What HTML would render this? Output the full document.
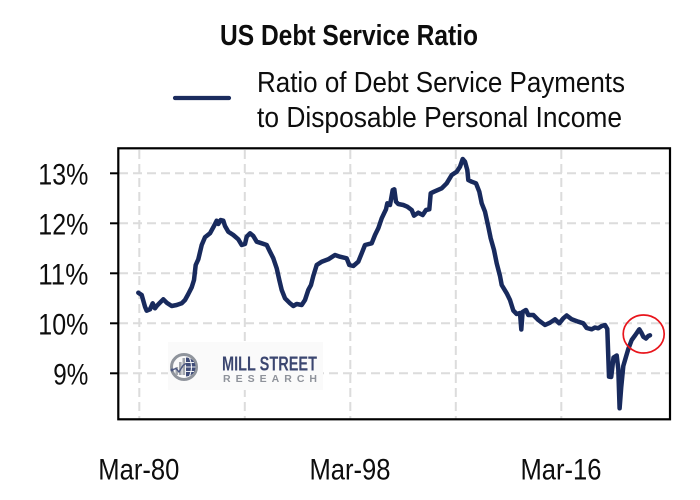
<!DOCTYPE html>
<html>
<head>
<meta charset="utf-8">
<style>
  html,body{margin:0;padding:0;background:#ffffff;}
  body{width:700px;height:500px;overflow:hidden;}
  svg{display:block;}
  .t{font-family:"Liberation Sans Narrow","Liberation Sans",sans-serif;fill:#0d0d0d;}
</style>
</head>
<body>
<svg width="700" height="500" viewBox="0 0 700 500" xmlns="http://www.w3.org/2000/svg">
  <rect x="0" y="0" width="700" height="500" fill="#ffffff"/>

  <!-- Title -->
  <text class="t" x="220" y="45" font-size="29" font-weight="bold" textLength="258" lengthAdjust="spacingAndGlyphs">US Debt Service Ratio</text>

  <!-- Legend -->
  <line x1="175" y1="98" x2="229" y2="98" stroke="#1b2c5e" stroke-width="4.2" stroke-linecap="round"/>
  <text class="t" x="257" y="92" font-size="29" textLength="368" lengthAdjust="spacingAndGlyphs">Ratio of Debt Service Payments</text>
  <text class="t" x="257" y="127" font-size="29" textLength="365" lengthAdjust="spacingAndGlyphs">to Disposable Personal Income</text>

  <!-- Grid -->
  <g stroke="#dcdcdc" stroke-width="2" stroke-dasharray="9,5" fill="none">
    <line x1="119" y1="173.3" x2="669" y2="173.3"/>
    <line x1="119" y1="223.3" x2="669" y2="223.3"/>
    <line x1="119" y1="273.3" x2="669" y2="273.3"/>
    <line x1="119" y1="323.3" x2="669" y2="323.3"/>
    <line x1="119" y1="373.3" x2="669" y2="373.3"/>
    <line x1="139.3" y1="150" x2="139.3" y2="419"/>
    <line x1="244.8" y1="150" x2="244.8" y2="419"/>
    <line x1="350.3" y1="150" x2="350.3" y2="419"/>
    <line x1="455.8" y1="150" x2="455.8" y2="419"/>
    <line x1="561.3" y1="150" x2="561.3" y2="419"/>
  </g>

  <!-- Logo -->
  <rect x="168" y="342" width="155" height="48" fill="#fafafa"/>
  <g>
    <circle cx="184" cy="367" r="12.5" fill="none" stroke="#8f949c" stroke-width="3"/>
    <rect x="175.5" y="367" width="2.6" height="8" fill="#a3a7ae"/>
    <rect x="179" y="362" width="2.6" height="13" fill="#a3a7ae"/>
    <rect x="182.5" y="358" width="2.6" height="17" fill="#a3a7ae"/>
    <path d="M186 357.5 A9.5 9.5 0 0 1 186 376.5 Z" fill="#3f4c78"/>
    <g stroke="#ffffff" stroke-width="0.9" fill="none">
      <line x1="186" y1="362.5" x2="194" y2="362.5"/>
      <line x1="186" y1="367" x2="195.5" y2="367"/>
      <line x1="186" y1="371.5" x2="194" y2="371.5"/>
      <path d="M189.5 358 Q193.5 367 189.5 376"/>
    </g>
    <polyline points="172,370 176,368.5 179,372 183,365.5 186,363.5" fill="none" stroke="#4a5680" stroke-width="1.4"/>
    <circle cx="172" cy="370" r="1.5" fill="#4a5680"/>
  </g>
  <text x="222" y="370.5" font-size="20" font-weight="bold" fill="#3b4670" textLength="95" lengthAdjust="spacingAndGlyphs" style="font-family:'Liberation Sans Narrow','Liberation Sans',sans-serif">MILL STREET</text>
  <text x="223" y="382" font-size="10.5" font-weight="bold" fill="#8e929a" textLength="94" lengthAdjust="spacing" style="font-family:'Liberation Sans','DejaVu Sans',sans-serif">RESEARCH</text>

  <!-- Series -->
  <polyline fill="none" stroke="#182a5d" stroke-width="4.5" stroke-linejoin="round" stroke-linecap="round" points="
138.3,292.7 141.7,295 145,306.7 146.7,310.7 150,309.3 152.7,303.3 155,308.3 156.7,306 159.3,303.3 163.3,299.3
166.7,302.7 171.7,306 176.7,305 181.7,303.3 185,300 188.3,294 191.7,287.3 194,280 195.7,265 198.3,259.3
201.7,245 205,237.3 210,233.3 214,226 216.7,220.7 218.3,224 220.7,220 223.3,220.7 225,226 228.3,231.7
233.3,235 238.3,239.3 241.7,245 245,244 246.7,236.7 250,233.3 253.3,236 256.7,241.7 261.7,243.3 266.7,245
270,251.7 273.3,258.3 276.7,268.3 279.3,280 281.7,290 285,298.3 290,303.3 293.3,306 296.7,304 301.7,305
305,300 308.3,290 311,285 313.3,276 316.7,265 321.7,261.7 328.3,259.3 335,255 340,256.7 346.7,258.3
349.3,265 353.3,266 358.3,261.7 361.7,253.3 365,245 371.7,243.3 375,235 378.3,228.3 381.7,218.3 386,209.3
387.3,203.3 390,205 392.7,190 394.3,189.3 396,201.7 398.3,204 403.3,205 407.3,206.7 411.7,210 414,215.7
418.3,212.7 422.7,215 426,210 429.3,209.3 430.7,193.3 434,191.7 441.7,188.3 446.7,183.3 451.7,175 456.7,171.7
460,166.7 462.7,159 465,161.7 467.3,170 468.3,180 471.7,181.7 476,183.3 479.3,191.7 481.7,203.3 485,211.7
488.3,226.7 490.7,238.3 494,250 496.7,263.3 500,276 501.7,285 506.7,293.3 510,300 513.3,310.5 516.7,314
520,313 521.3,329.5 522.6,312 526,310 528.3,315 533.3,315 538.3,320 545,325 550,322.7 555,319.3
559.3,323.3 563.3,318.3 566.7,315.5 571.7,319.3 578.3,321.7 583.3,323.3 586.7,328 591.7,329.3 595,327.5 598.3,328.3
601.7,326 605,325 607.3,329 609,376.7 611.2,377 613.5,357.5 616.7,355.5 618.3,369 619.6,408.3 621.2,387.5
623.3,366 626,356.7 628.3,349 631.7,340 635,335.5 639.3,329.3 641.7,333.3 643.3,336.7 646,338.5 648.3,336 650,335.3"/>

  <!-- Frame -->
  <rect x="118.3" y="148.3" width="551.7" height="271" fill="none" stroke="#000000" stroke-width="2.2"/>

  <!-- Y ticks -->
  <g stroke="#000000" stroke-width="2">
    <line x1="110" y1="173.3" x2="118.3" y2="173.3"/>
    <line x1="110" y1="223.3" x2="118.3" y2="223.3"/>
    <line x1="110" y1="273.3" x2="118.3" y2="273.3"/>
    <line x1="110" y1="323.3" x2="118.3" y2="323.3"/>
    <line x1="110" y1="373.3" x2="118.3" y2="373.3"/>
  </g>

  <!-- Y labels -->
  <text class="t" x="38.3" y="184.5" font-size="30" textLength="50" lengthAdjust="spacingAndGlyphs">13%</text>
  <text class="t" x="38.3" y="234.5" font-size="30" textLength="50" lengthAdjust="spacingAndGlyphs">12%</text>
  <text class="t" x="38.3" y="284.5" font-size="30" textLength="50" lengthAdjust="spacingAndGlyphs">11%</text>
  <text class="t" x="38.3" y="334.5" font-size="30" textLength="50" lengthAdjust="spacingAndGlyphs">10%</text>
  <text class="t" x="53.3" y="384.5" font-size="30" textLength="35" lengthAdjust="spacingAndGlyphs">9%</text>

  <!-- X labels -->
  <text class="t" x="98.3" y="479.3" font-size="30" textLength="81" lengthAdjust="spacingAndGlyphs">Mar-80</text>
  <text class="t" x="309.5" y="479.3" font-size="30" textLength="81" lengthAdjust="spacingAndGlyphs">Mar-98</text>
  <text class="t" x="520.5" y="479.3" font-size="30" textLength="81" lengthAdjust="spacingAndGlyphs">Mar-16</text>

  <!-- Red highlight circle -->
  <ellipse cx="643.7" cy="334" rx="20.5" ry="19" fill="none" stroke="#e8141b" stroke-width="1.7"/>
</svg>
</body>
</html>
